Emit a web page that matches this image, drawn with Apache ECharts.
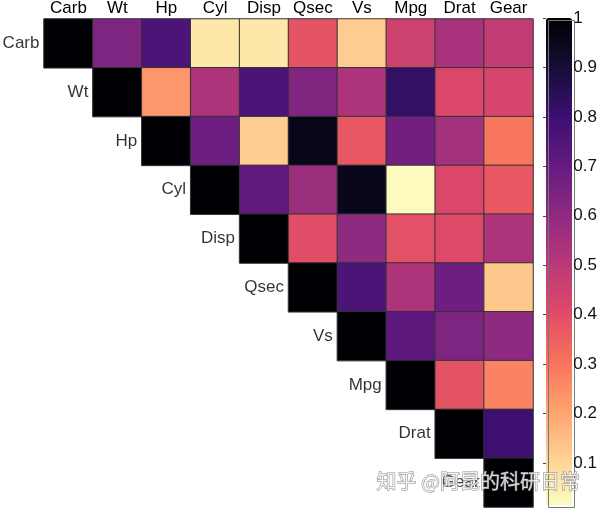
<!DOCTYPE html>
<html>
<head>
<meta charset="utf-8">
<script src="https://cdn.jsdelivr.net/npm/echarts@6/dist/echarts.min.js"></script>
<style>
  html, body { margin: 0; padding: 0; background: #fff; }
  #chart { width: 600px; height: 508px; }
</style>
</head>
<body>
<div id="chart"></div>
<script>
const labels = ['Carb', 'Wt', 'Hp', 'Cyl', 'Disp', 'Qsec', 'Vs', 'Mpg', 'Drat', 'Gear']
// upper triangle, row i starts at column i
const corr = [
  [1, 0.64, 0.76, 0.06, 0.06, 0.38, 0.12, 0.45, 0.54, 0.48],
  [1, 0.23, 0.53, 0.76, 0.63, 0.53, 0.82, 0.42, 0.43],
  [1, 0.68, 0.12, 0.96, 0.37, 0.67, 0.55, 0.3],
  [1, 0.71, 0.57, 0.95, 0.02, 0.42, 0.37],
  [1, 0.4, 0.6, 0.39, 0.41, 0.53],
  [1, 0.76, 0.53, 0.68, 0.13],
  [1, 0.72, 0.64, 0.6],
  [1, 0.38, 0.27],
  [1, 0.8],
  [1]
]
const barTicks = [0.1, 0.2, 0.3, 0.4, 0.5, 0.6, 0.7, 0.8, 0.9, 1]
const barMin = 0.015
const barMax = 1

// magma, light end first
const magma = ['#fcfdbf', '#fecf92', '#fe9f6d', '#f7705c', '#de4968', '#b73779',
  '#8c2981', '#641a80', '#3b0f70', '#140e36', '#000004']

const cells = []
corr.forEach((row, i) => row.forEach((v, k) => cells.push([i + k, i, v])))
const diag = labels.map(l => [l, l])

const font = 'Arial, "Liberation Sans", sans-serif'
const chart = echarts.init(document.getElementById('chart'))
chart.setOption({
  animation: false,
  grid: [
    {left: 44, top: 17, width: 489, height: 490},
    {left: 546, top: 18, width: 26, height: 487, show: false}
  ],
  xAxis: [
    {
      type: 'category', data: labels, position: 'top', gridIndex: 0,
      axisLine: {show: false}, axisTick: {show: false}, splitLine: {show: false},
      axisLabel: {color: '#000', fontSize: 17, fontFamily: font, margin: 2, interval: 0}
    },
    {type: 'value', gridIndex: 1, show: false}
  ],
  yAxis: [
    {
      type: 'category', data: labels, inverse: true, gridIndex: 0,
      axisLine: {show: false}, axisTick: {show: false}, axisLabel: {show: false}, splitLine: {show: false}
    },
    {
      type: 'value', gridIndex: 1, position: 'right', min: barMin, max: barMax, z: 10,
      axisLine: {show: false}, splitLine: {show: false},
      axisTick: {show: true, inside: true, length: 3, lineStyle: {color: '#444'}, customValues: barTicks},
      axisLabel: {color: '#111', fontSize: 17, fontFamily: font, margin: 7, customValues: barTicks}
    }
  ],
  visualMap: {
    type: 'continuous', seriesIndex: 0, min: barMin, max: barMax,
    left: 546, top: 18, itemWidth: 26, itemHeight: 487, padding: 0,
    calculable: false, hoverLink: false, text: null, showLabel: false,
    inRange: {color: magma}
  },
  graphic: [
    {
      type: 'rect', left: 546, top: 18, shape: {width: 26, height: 487},
      style: {fill: 'none', stroke: '#777', lineWidth: 1}, z: 10
    },
    {
      type: 'text', left: 376, top: 471, z: 20,
      style: {
        text: '知乎 @阿昆的科研日常', fontSize: 20, fontFamily: '"Noto Sans CJK SC", sans-serif',
        fill: 'rgba(255,255,255,0.8)', stroke: 'rgba(110,110,110,0.8)', lineWidth: 1
      }
    }
  ],
  series: [
    {
      type: 'heatmap', xAxisIndex: 0, yAxisIndex: 0, data: cells,
      itemStyle: {borderColor: '#333', borderWidth: 1}
    },
    {
      type: 'scatter', xAxisIndex: 0, yAxisIndex: 0, data: diag, symbolSize: 0, z: 5,
      label: {show: true, position: 'left', distance: 29, formatter: p => p.value[1], color: '#000', fontSize: 17, fontFamily: font}
    }
  ]
})
</script>
</body>
</html>
